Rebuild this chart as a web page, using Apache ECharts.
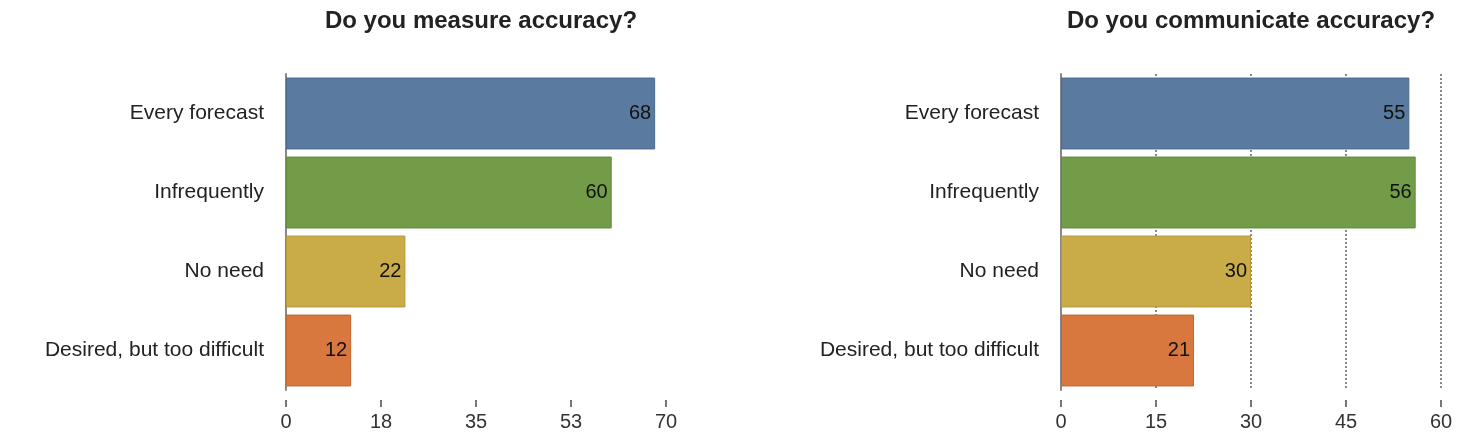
<!DOCTYPE html>
<html><head><meta charset="utf-8">
<script src="https://cdn.jsdelivr.net/npm/echarts@6/dist/echarts.min.js"></script>
<style>html,body{margin:0;background:#fff}#c{width:1469px;height:445px}</style>
</head><body><div id="c"></div>
<script>
const categories = ["Every forecast","Infrequently","No need","Desired, but too difficult"];
const measureValues = [68,60,22,12];
const communicateValues = [55,56,30,21];
const colors = ["#5a7a9f","#739c49","#c9ab48","#d8773e"];
const borders = ["#4a6a90","#5f8a38","#b8983a","#c4652f"];
const titles = ["Do you measure accuracy?","Do you communicate accuracy?"];

const chart = echarts.init(document.getElementById('c'));
const font = 'Helvetica, Arial, "Liberation Sans", sans-serif';
function xAx(i, max, interval, grid){
  return {type:'value', gridIndex:i, min:0, max:max, interval:interval, offset:10,
    axisLine:{show:false}, axisTick:{show:true, length:7, lineStyle:{color:'#777',width:2}},
    axisLabel:{color:'#333', fontSize:20, fontFamily:font, margin:12, formatter:v=>Math.round(v)},
    splitLine:{show:grid, lineStyle:{type:'dotted', color:'#888', width:2}}};
}
function yAx(i){
  return {type:'category', gridIndex:i, data:categories, inverse:true,
    axisLine:{show:true, lineStyle:{color:'#888', width:2}}, axisTick:{show:false},
    axisLabel:{color:'#222', fontSize:21, fontFamily:font, margin:22}};
}
function ser(i, vals){
  return {type:'bar', xAxisIndex:i, yAxisIndex:i, barCategoryGap:'9%',
    data:vals.map((v,k)=>({value:v, itemStyle:{color:colors[k], borderColor:borders[k], borderWidth:1}})),
    label:{show:true, position:'insideRight', color:'#111', fontSize:20, fontFamily:font, distance:4}};
}
chart.setOption({
  animation:false,
  title:[
    {text:titles[0], left:476, top:4, textAlign:'center', textStyle:{fontSize:24, fontWeight:'bold', color:'#222', fontFamily:font}},
    {text:titles[1], left:1246, top:4, textAlign:'center', textStyle:{fontSize:24, fontWeight:'bold', color:'#222', fontFamily:font}}
  ],
  grid:[{left:286, width:380, top:74, height:316},{left:1061, width:380, top:74, height:316}],
  xAxis:[xAx(0,70,17.5,false), xAx(1,60,15,true)],
  yAxis:[yAx(0), yAx(1)],
  series:[ser(0,measureValues), ser(1,communicateValues)]
});
</script></body></html>
